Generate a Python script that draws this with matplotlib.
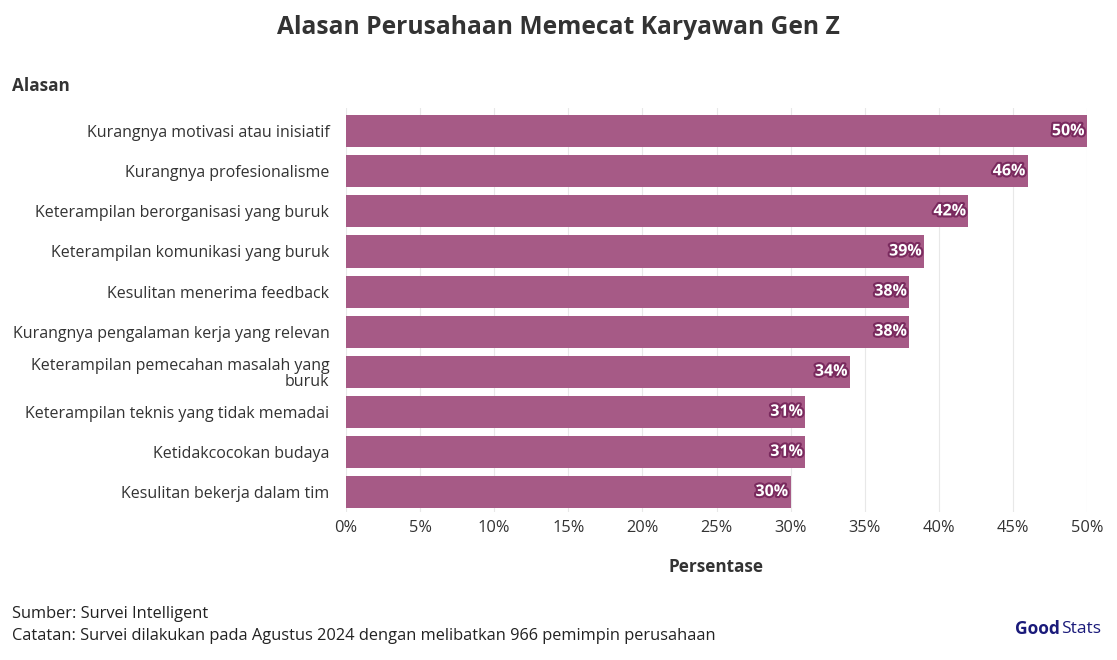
import matplotlib
matplotlib.use("Agg")
import matplotlib.pyplot as plt
import matplotlib.patheffects as pe

categories = ["Kurangnya motivasi atau inisiatif", "Kurangnya profesionalisme",
              "Keterampilan berorganisasi yang buruk", "Keterampilan komunikasi yang buruk",
              "Kesulitan menerima feedback", "Kurangnya pengalaman kerja yang relevan",
              "Keterampilan pemecahan masalah yang\nburuk", "Keterampilan teknis yang tidak memadai",
              "Ketidakcocokan budaya", "Kesulitan bekerja dalam tim"]
values = [50, 46, 42, 39, 38, 38, 34, 31, 31, 30]
xticks = [0, 5, 10, 15, 20, 25, 30, 35, 40, 45, 50]

plt.rcParams['font.family'] = ['Open Sans', 'DejaVu Sans']
fig = plt.figure(figsize=(11.17, 6.6), dpi=100)
ax = fig.add_axes([346/1117, 1-512/660, (1087-346)/1117, (512-108)/660])
y = list(range(len(categories)))
ax.barh(y, values, height=0.8, color="#A65A86", zorder=2)
ax.set_ylim(9.5, -0.58)
ax.set_xlim(0, 50)
ax.set_yticks(y)
ax.set_yticklabels(categories, fontsize=11.5, color="#333333", linespacing=1.0)
ax.set_xticks(xticks)
ax.set_xticklabels([f"{t}%" for t in xticks], fontsize=11.8, color="#333333")
ax.tick_params(length=0, pad=12)
ax.tick_params(axis='x', pad=6)
ax.grid(axis='x', color="#e8e8e8", lw=0.8, zorder=0)
for s in ax.spines.values():
    s.set_visible(False)
for yi, v in zip(y, values):
    ax.text(v - 0.15, yi, f"{v}%", ha='right', va='center', fontsize=11.5, fontweight='bold',
            color='white', zorder=3,
            path_effects=[pe.withStroke(linewidth=3, foreground="#7a2a5e")])
fig.text(0.5, 1-28/660, "Alasan Perusahaan Memecat Karyawan Gen Z", ha='center', va='center',
         fontsize=17.7, fontweight='bold', color="#333333")
fig.text(12/1117, 1-86/660, "Alasan", ha='left', va='center', fontsize=12.3, fontweight='bold', color="#333333")
fig.text(716/1117, 1-567/660, "Persentase", ha='center', va='center', fontsize=12.3, fontweight='bold', color="#333333")
fig.text(12/1117, 1-614/660, "Sumber: Survei Intelligent", ha='left', va='center', fontsize=11.8, color="#222222")
fig.text(12/1117, 1-636/660, "Catatan: Survei dilakukan pada Agustus 2024 dengan melibatkan 966 pemimpin perusahaan",
         ha='left', va='center', fontsize=11.8, color="#222222")
fig.text(1015/1117, 1-629/660, "Good", ha='left', va='center', fontsize=12.5, fontweight='bold', color="#1a1a7a")
fig.text(1061/1117, 1-629/660, "Stats", ha='left', va='center', fontsize=12.5, color="#1a1a7a")
fig.savefig("out.png", dpi=100)
